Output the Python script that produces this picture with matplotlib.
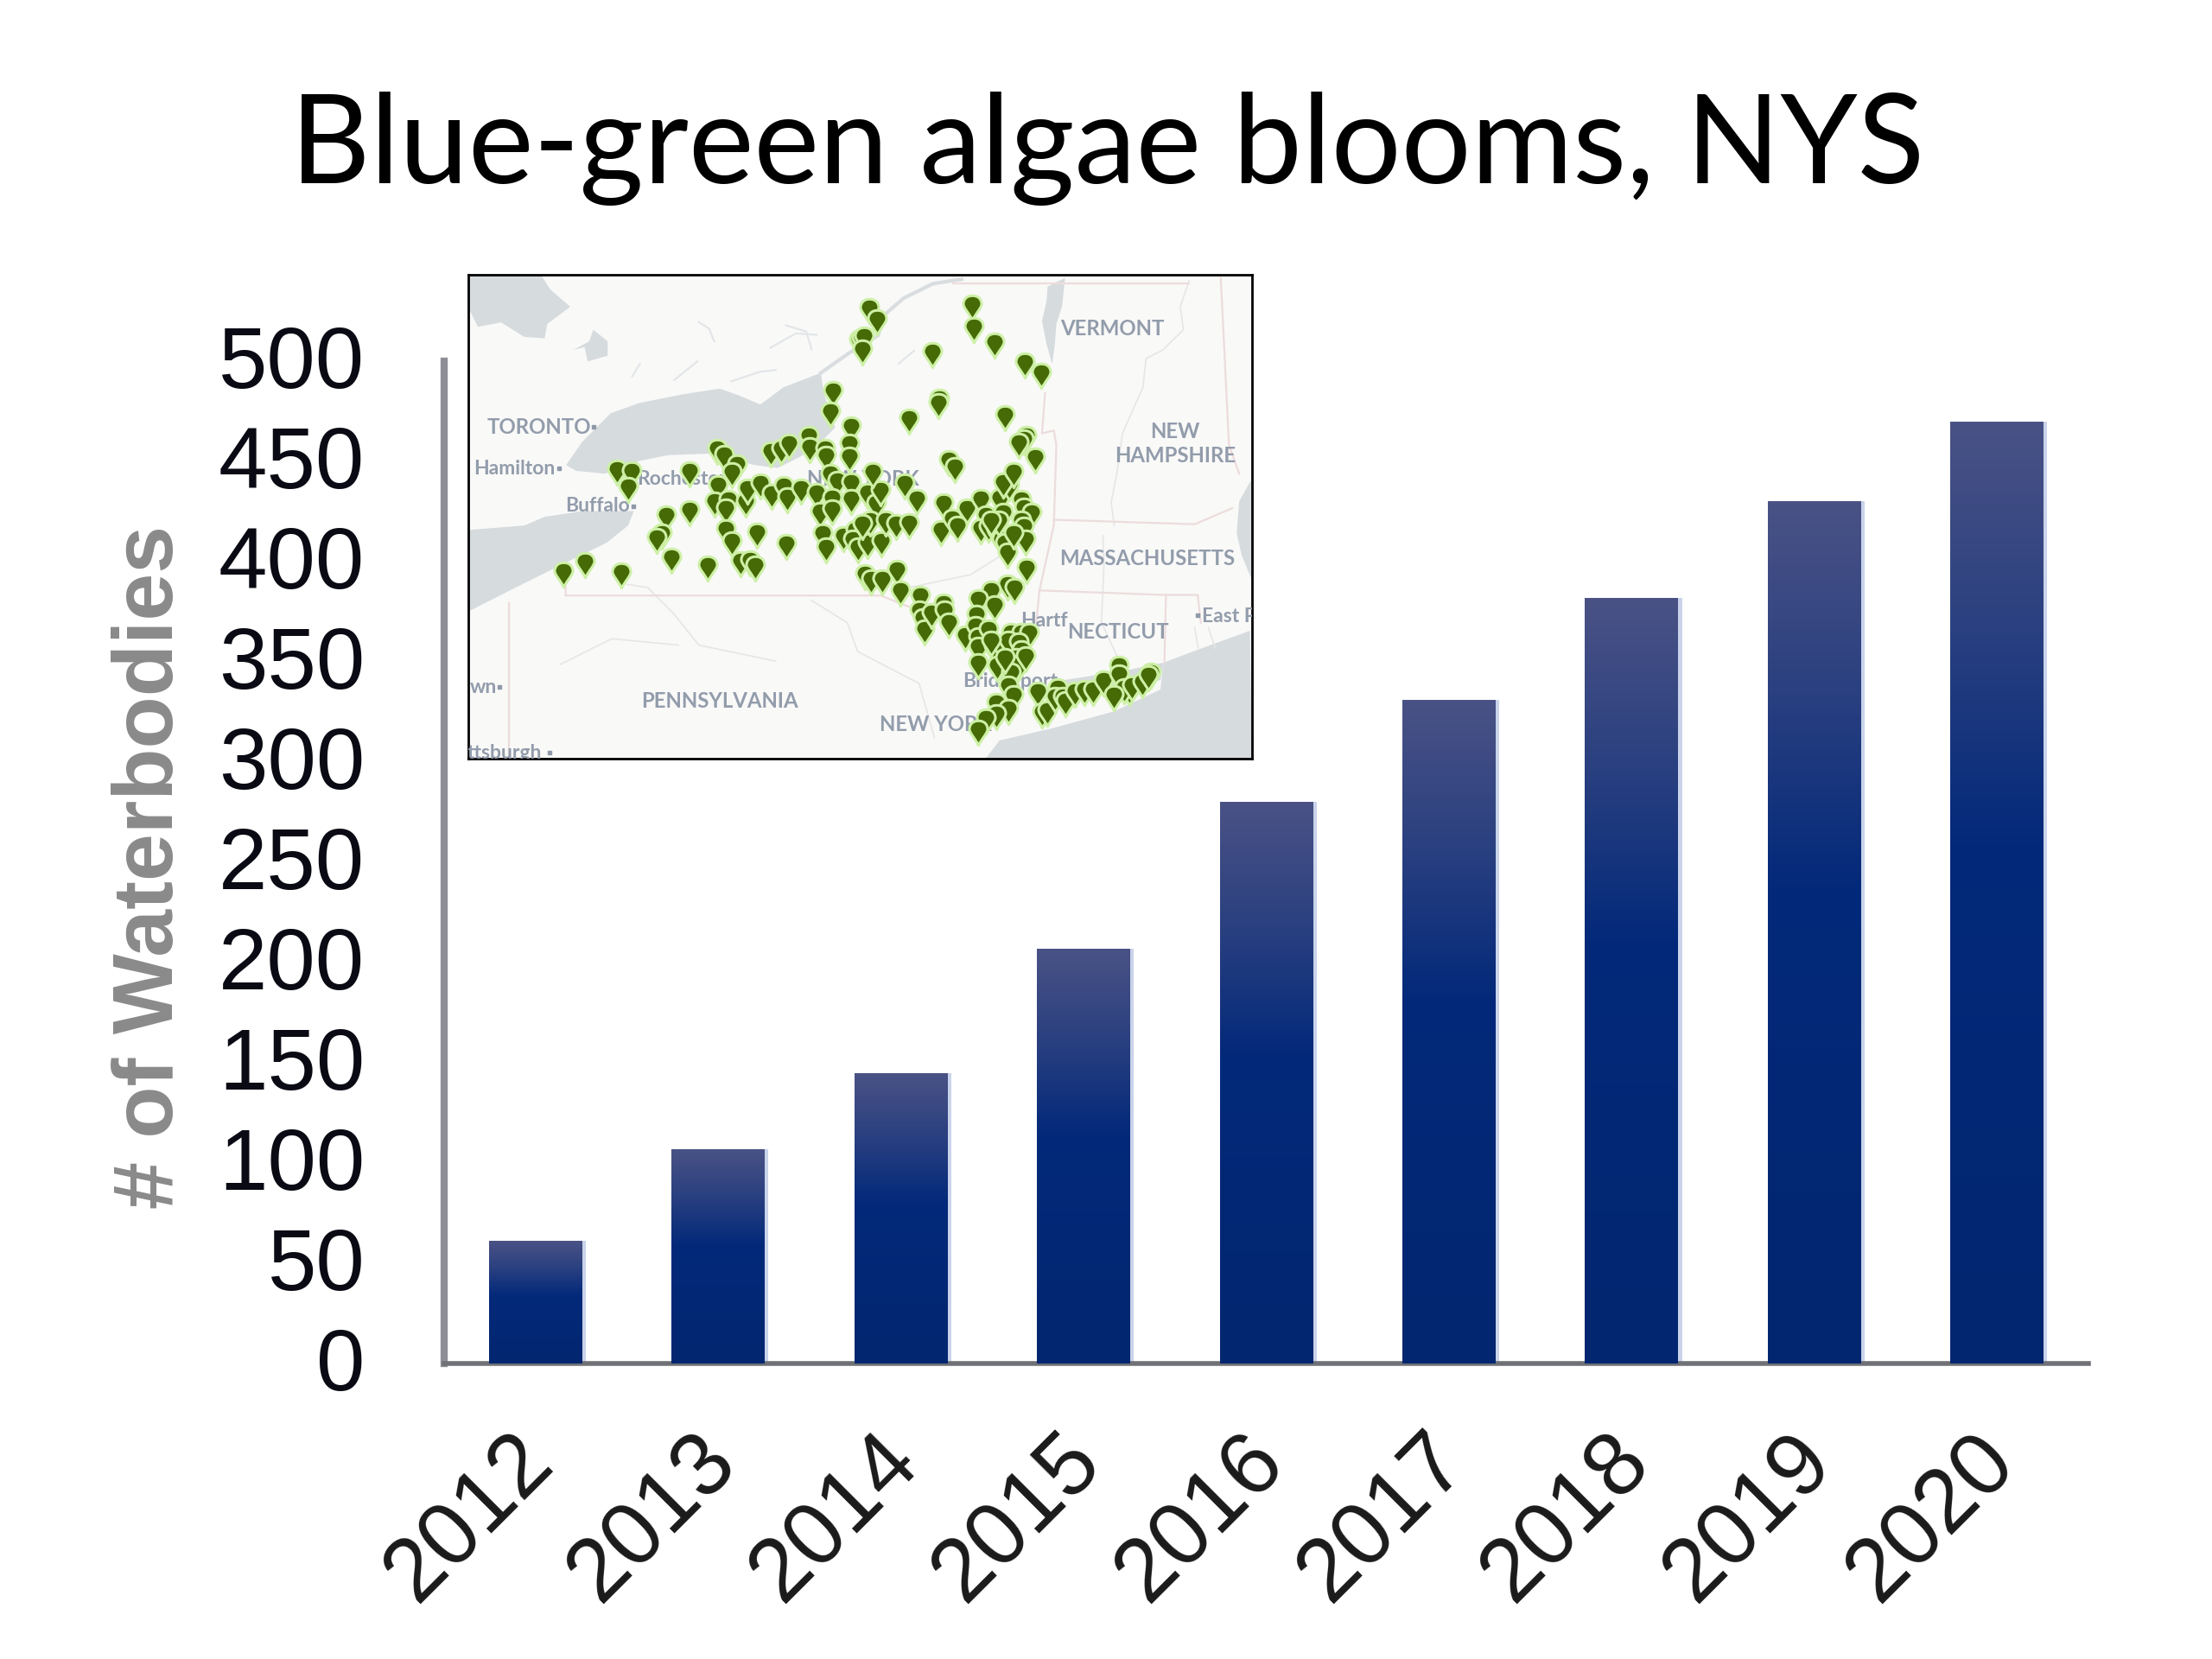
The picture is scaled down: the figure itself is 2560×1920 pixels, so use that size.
import numpy as np
import matplotlib
matplotlib.use("Agg")
import matplotlib.pyplot as plt
from matplotlib.colors import LinearSegmentedColormap
from matplotlib.path import Path
from matplotlib.transforms import ScaledTranslation

# chart values
years = ["2012", "2013", "2014", "2015", "2016", "2017", "2018", "2019", "2020"]
waterbodies = [61, 107, 145, 207, 280, 331, 382, 430, 470]
y_ticks = [0, 50, 100, 150, 200, 250, 300, 350, 400, 450, 500]

# map pins (x, y in crop coordinates)
pins_north = [(802, 135), (818, 170), (782, 235), (788, 230), (792, 225), (790, 265), (1004, 125), (1006, 195),
              (1048, 243), (926, 272), (1106, 305), (1139, 337), (732, 395), (726, 460), (768, 505), (764, 560),
              (764, 600), (880, 480), (940, 420), (938, 432), (1068, 470), (1110, 535), (1105, 545), (1095, 558),
              (1126, 603), (958, 610), (970, 632)]
pins_west = [(310, 640), (338, 645), (332, 695), (452, 645), (406, 785), (452, 768), (398, 840), (388, 855),
             (416, 915), (206, 960), (248, 930), (318, 962), (488, 940)]
pins_middle = [(505, 575), (520, 595), (545, 625), (535, 650), (508, 690), (500, 740), (528, 735), (522, 762),
               (562, 742), (565, 700), (590, 685), (612, 717), (636, 692), (642, 728), (670, 700), (610, 585),
               (630, 575), (645, 560), (684, 535), (686, 570), (716, 575), (718, 598), (726, 655), (740, 675),
               (700, 715), (730, 730), (706, 772), (730, 765), (768, 680), (768, 732), (800, 715), (816, 745),
               (825, 705), (810, 650), (872, 685), (896, 733), (522, 828), (535, 865), (584, 838), (641, 872),
               (552, 928), (570, 925), (580, 940), (712, 840), (718, 885), (752, 850), (775, 830), (770, 860),
               (780, 885), (800, 870), (826, 865), (805, 800), (790, 810), (835, 800), (855, 810), (880, 808),
               (795, 968), (806, 985), (828, 985), (856, 955), (864, 1018)]
pins_hudson = [(942, 830), (948, 745), (993, 762), (965, 795), (974, 815), (1020, 733), (1058, 730), (1076, 690),
               (1065, 680), (1084, 650), (1100, 735), (1105, 760), (1120, 775), (1030, 785), (1065, 775),
               (1100, 800), (1020, 825), (1035, 820), (1050, 830), (1060, 860), (1068, 870), (1072, 900),
               (1105, 820), (1108, 860), (1055, 800), (1040, 800), (1085, 840), (1110, 950), (1072, 1000),
               (1086, 1010), (1040, 1020), (1016, 1045), (1048, 1065), (1012, 1095)]
pins_catskill = [(902, 1035), (900, 1080), (908, 1105), (910, 1140), (925, 1090), (948, 1060), (950, 1080), (958, 1120)]
pins_south = [(990, 1160), (1010, 1130), (1015, 1165), (1035, 1140), (1015, 1195), (1016, 1245), (1045, 1195),
              (1065, 1195), (1052, 1255), (1080, 1150), (1100, 1150), (1115, 1150), (1075, 1175), (1095, 1180),
              (1100, 1205), (1090, 1230), (1095, 1250), (1080, 1275), (1075, 1315), (1085, 1345), (1050, 1370),
              (1075, 1390), (1050, 1405), (1030, 1420), (1015, 1455), (1108, 1225), (1068, 1230), (1040, 1175)]
pins_island = [(1132, 1335), (1140, 1400), (1150, 1395), (1170, 1325), (1165, 1350), (1180, 1350), (1186, 1365),
               (1205, 1335), (1222, 1330), (1240, 1330), (1260, 1300), (1290, 1255), (1290, 1280), (1310, 1330),
               (1300, 1325), (1315, 1315), (1335, 1305), (1280, 1345), (1352, 1275), (1348, 1285)]

# map geography
lake_ontario = [(211, 617), (242, 545), (298, 455), (354, 423), (438, 396), (511, 378), (551, 401), (590, 428),
                (635, 374), (708, 329), (714, 392), (736, 500), (708, 545), (669, 590), (624, 626), (579, 617),
                (495, 581), (410, 586), (354, 604), (287, 644), (230, 635)]
lake_erie = [(20, 820), (129, 806), (169, 779), (242, 761), (343, 761), (332, 806), (290, 860), (200, 930),
             (100, 1010), (20, 1075)]
lake_huron = [(22, 25), (163, 25), (180, 68), (219, 122), (174, 176), (169, 221), (129, 216), (84, 171), (39, 185),
              (22, 131)]
lake_simcoe = [(264, 194), (292, 230), (292, 275), (253, 293), (247, 248), (225, 257), (256, 230)]
lake_champlain = [(1151, 59), (1185, 32), (1179, 122), (1168, 176), (1165, 239), (1160, 302), (1149, 239),
                  (1140, 167), (1149, 104)]
ocean = [(1030, 1535), (1057, 1478), (1158, 1441), (1281, 1387), (1371, 1319), (1377, 1235), (1438, 1198),
         (1546, 1135), (1550, 1535)]
cape_water = [(1548, 665), (1525, 730), (1520, 830), (1530, 900), (1548, 970)]
sound = [(1118, 1343), (1185, 1289), (1310, 1257), (1377, 1235), (1371, 1290), (1250, 1310), (1150, 1345)]
st_lawrence = [(708, 329), (764, 266), (820, 212), (831, 149), (870, 95), (927, 50), (983, 36)]
small_lakes = [
    [(422, 351), (467, 293)],
    [(534, 355), (590, 325), (620, 320)],
    [(610, 250), (660, 205), (700, 210)],
    [(640, 180), (680, 200), (690, 255)],
    [(340, 340), (355, 300)],
    [(860, 300), (890, 260)],
    [(470, 170), (490, 190), (500, 230)],
]
borders = [
    [(210, 980), (210, 1025), (825, 1025), (880, 1060)],
    [(100, 1050), (100, 1535)],
    [(966, 50), (1427, 50)],
    [(1146, 392), (1140, 518), (1163, 509), (1168, 554), (1163, 806), (1135, 1009), (1129, 1108)],
    [(1489, 32), (1494, 194), (1505, 554), (1525, 644)],
    [(1163, 788), (1438, 802), (1511, 752)],
    [(1135, 1009), (1379, 1023), (1444, 1023), (1450, 1110)],
    [(1382, 1023), (1379, 1234)],
]
rivers = [
    [(330, 990), (370, 1000), (420, 1080), (470, 1180), (620, 1230)],
    [(690, 1040), (760, 1110), (780, 1200), (900, 1300), (930, 1470)],
    [(200, 1240), (300, 1160), (430, 1180)],
    [(880, 1000), (1000, 960), (1060, 900)],
    [(1427, 41), (1410, 122), (1416, 194), (1376, 257), (1343, 284), (1337, 374), (1297, 518), (1286, 644),
     (1275, 734), (1281, 806)],
    [(1259, 838), (1261, 928), (1256, 1108), (1292, 1234)],
    [(1438, 1126), (1445, 1189)],
    [(1465, 1126), (1478, 1189)],
]

# map labels
label_text = ["TORONTO", "Hamilton", "Buffalo", "Rochester", "NEW YORK", "VERMONT", "NEW", "HAMPSHIRE",
              "MASSACHUSETTS", "Hartf", "NECTICUT", "East P", "wn", "ttsburgh", "PENNSYLVANIA", "NEW YORK", "Bridgeport"]
label_x = [158, 110, 272, 437, 790, 1278, 1400, 1400, 1345, 1145, 1288, 1505, 50, 90, 510, 932, 1078]
label_y = [498, 628, 745, 660, 660, 190, 512, 588, 910, 1105, 1140, 1090, 1312, 1518, 1355, 1428, 1292]
label_size = [17.3, 16.5, 16.5, 16.5, 17.3, 17.3, 17.3, 17.3, 17.3, 16.5, 17.3, 16.5, 16.5, 16.5, 17.3, 17.3, 16.5]
city_x = [265, 197, 342, 1443, 80, 178]
city_y = [498, 628, 745, 1087, 1312, 1517]

plt.rcParams['font.family'] = ['Liberation Sans', 'DejaVu Sans']

fig = plt.figure(figsize=(25.6, 19.2), dpi=100, facecolor='white')
W, H = 2560.0, 1920.0

# main axes
ax = fig.add_axes([514 / W, 1 - 1578 / H, 1903 / W, 1160 / H])
x = np.arange(len(years))
bar_w = 0.51
ax.bar(x + 0.02, waterbodies, bar_w, color='#c9d3ea', zorder=1)
bars = ax.bar(x, waterbodies, bar_w, color='#02266f', zorder=2)

# shaded bars
cmap = LinearSegmentedColormap.from_list('bar', [(0, '#4a5285'), (0.22, '#2a4080'), (0.45, '#03297a'), (1, '#02266f')])
grad = np.linspace(0, 1, 256).reshape(-1, 1)
for b in bars:
    im = ax.imshow(grad, cmap=cmap, aspect='auto', origin='upper', zorder=3,
                   extent=(b.get_x(), b.get_x() + b.get_width(), 0, b.get_height()))
    im.set_clip_path(b)

ax.set_xlim(-0.5, 8.5)
ax.set_ylim(0, 500)
ax.set_xticks(x)
ax.set_xticklabels(years, rotation=45, ha='right', rotation_mode='anchor', fontsize=74, color='#1a1a1a')
ax.set_yticks(y_ticks)
ax.tick_params(axis='y', length=0, pad=66, labelsize=73, labelcolor='#0a0a14')
ax.tick_params(axis='x', length=0, pad=62)
x_shift = ScaledTranslation(-0.29, 0.22, fig.dpi_scale_trans)
y_shift = ScaledTranslation(0, 0.06, fig.dpi_scale_trans)
for lab in ax.get_xticklabels():
    lab.set_transform(lab.get_transform() + x_shift)
for lab in ax.get_yticklabels():
    lab.set_transform(lab.get_transform() + y_shift)
ax.spines['top'].set_visible(False)
ax.spines['right'].set_visible(False)
ax.spines['left'].set_color('#8e8f96')
ax.spines['left'].set_linewidth(6)
ax.spines['bottom'].set_color('#6f7176')
ax.spines['bottom'].set_linewidth(4)
ax.set_ylabel('# of Waterbodies', fontsize=71, fontweight='bold', color='#8a8a8a')
ax.yaxis.set_label_coords(-(514 - 220) / 1903, 0.495)

# title
fig.text(1282 / W, 1 - 212 / H, 'Blue-green algae blooms, NYS', family='Lato', fontsize=103,
         color='black', ha='center', va='baseline')

# inset map
mp = fig.add_axes([542 / W, 1 - 878 / H, 907 / W, 560 / H], facecolor='#f9f9f8')
mp.set_xlim(20, 1550)
mp.set_ylim(1535, 22)
mp.set_xticks([])
mp.set_yticks([])
for s in mp.spines.values():
    s.set_linewidth(2)
    s.set_color('black')

for shape in [lake_ontario, lake_erie, lake_huron, lake_simcoe, lake_champlain, ocean, cape_water, sound]:
    xs, ys = zip(*shape)
    mp.fill(xs, ys, color='#d6dbde', lw=0, zorder=1)
xs, ys = zip(*st_lawrence)
mp.plot(xs, ys, color='#d9dde0', lw=3, zorder=1)
for line in small_lakes:
    xs, ys = zip(*line)
    mp.plot(xs, ys, color='#e3e6e8', lw=1.6, zorder=1)
for line in rivers:
    xs, ys = zip(*line)
    mp.plot(xs, ys, color='#e6e6e6', lw=1.2, zorder=1)
for line in borders:
    xs, ys = zip(*line)
    mp.plot(xs, ys, color='#eddcdc', lw=1.6, zorder=2)

for t, lx, ly, sz in zip(label_text, label_x, label_y, label_size):
    mp.text(lx, ly, t, family='Lato', fontweight='bold', fontsize=sz, color='#929cab',
            ha='center', va='center', zorder=3, clip_on=True)
mp.scatter(city_x, city_y, marker='s', s=9, color='#8f99a8', zorder=3)

# pin marker, tip pointing down
pin = Path(
    [(0, 1.15), (0.6, 1.15), (0.85, 0.75), (0.85, 0.38), (0.85, 0.0), (0.3, -0.5), (0, -1.15),
     (-0.3, -0.5), (-0.85, 0.0), (-0.85, 0.38), (-0.85, 0.75), (-0.6, 1.15), (0, 1.15)],
    [Path.MOVETO, Path.CURVE4, Path.CURVE4, Path.CURVE4, Path.CURVE4, Path.CURVE4, Path.CURVE4,
     Path.CURVE4, Path.CURVE4, Path.CURVE4, Path.CURVE4, Path.CURVE4, Path.CURVE4])
all_pins = pins_north + pins_west + pins_middle + pins_hudson + pins_catskill + pins_south + pins_island
px, py = zip(*all_pins)
mp.scatter(px, py, marker=pin, s=420, facecolor='#456a06', edgecolor='#cdf0a6', linewidth=2.2, zorder=5)

fig.savefig('out.png', dpi=100)
